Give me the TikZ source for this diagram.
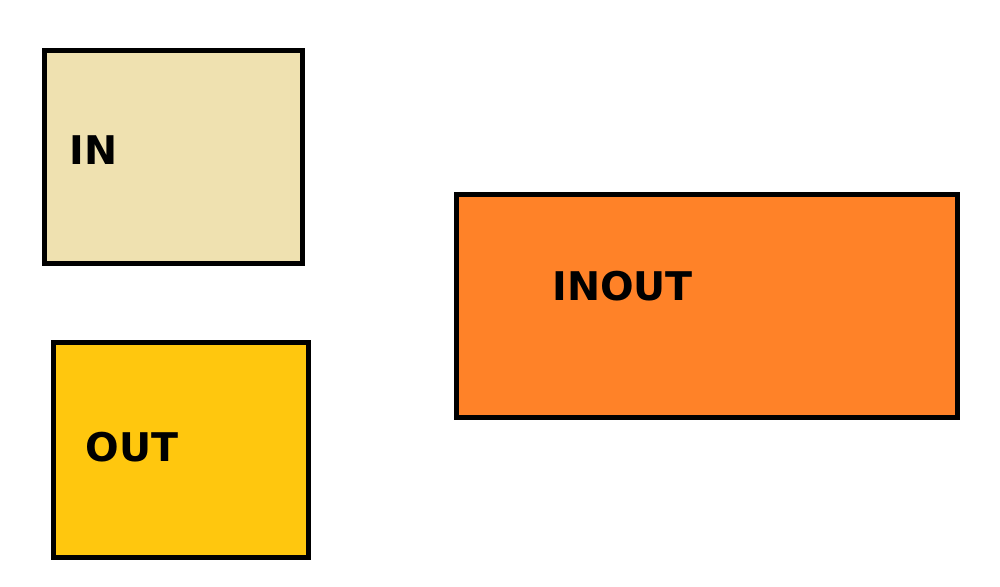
\documentclass[tikz,border=0pt]{standalone}
\usepackage{fontspec}
\setmainfont{DejaVu Sans}
\definecolor{inCol}{HTML}{EFE1B0}
\definecolor{outCol}{HTML}{FFC70E}
\definecolor{inoutCol}{HTML}{FF8228}
\begin{document}
\begin{tikzpicture}[x=0.02cm,y=-0.02cm,
  box/.style={draw=black, line width=0.1cm, anchor=north west, inner sep=0pt, outer sep=0pt},
  lbl/.style={anchor=west, inner sep=0pt, font=\fontsize{22.5pt}{26pt}\selectfont\bfseries}]
\useasboundingbox (0,0) rectangle (1000,586);
\node[box, fill=inCol, minimum width=258*0.02cm, minimum height=213.5*0.02cm] (inbox) at (44.5,50) {};
\node[box, fill=outCol, minimum width=255*0.02cm, minimum height=215*0.02cm] (outbox) at (53.5,342.5) {};
\node[box, fill=inoutCol, minimum width=501*0.02cm, minimum height=222.5*0.02cm] (inoutbox) at (456.5,194.5) {};
\node[lbl] (inlbl) at (69,150) {IN};
\node[lbl] (outlbl) at (85.5,447.5) {OUT};
\node[lbl] (inoutlbl) at (552,286.5) {INOUT};
\end{tikzpicture}
\end{document}
